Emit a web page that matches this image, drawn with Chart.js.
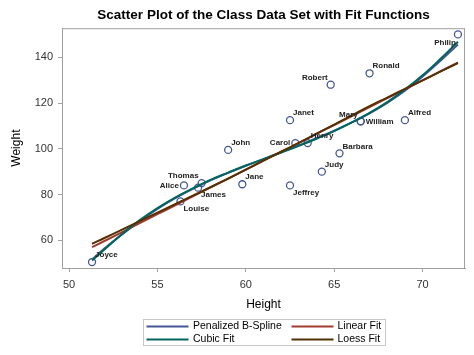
<!DOCTYPE html>
<html><head><meta charset="utf-8">
<script src="https://cdn.jsdelivr.net/npm/chart.js@4"></script>
<style>html,body{margin:0;padding:0;background:#fff}#wrap{width:474px;height:355px}</style>
</head><body><div id="wrap"><canvas id="c" width="474" height="355"></canvas></div>
<script>
const names   = ["Alfred","Alice","Barbara","Carol","Henry","James","Jane","Janet","Jeffrey","John","Joyce","Judy","Louise","Mary","Philip","Robert","Ronald","Thomas","William"];
const heights = [69.0,56.5,65.3,62.8,63.5,57.3,59.8,62.5,62.5,59.0,51.3,64.3,56.3,66.5,72.0,64.8,67.0,57.5,66.5];
const weights = [112.5,84.0,98.0,102.5,102.5,83.0,84.5,112.5,84.0,99.5,50.5,90.0,77.0,112.0,150.0,128.0,133.0,85.0,112.0];

const fitX    = [51.3,52,53,54,55,56,57,58,59,60,61,62,63,64,65,66,67,68,69,70,71,72];
const splineY = [51.6,56.4,62.6,68.4,73.7,78.4,82.5,86.2,89.5,92.6,95.5,98.5,101.5,104.6,107.9,111.5,115.5,120.1,125.4,131.6,138.4,145.6];
const linearY = [57.0,59.7,63.6,67.5,71.4,75.3,79.2,83.1,87.0,90.9,94.8,98.7,102.6,106.5,110.4,114.3,118.2,122.1,126.0,129.9,133.8,137.7];
const cubicY  = [51.2,56.0,62.8,68.8,74.1,78.7,82.7,86.4,89.6,92.7,95.5,98.4,101.3,104.4,107.7,111.5,115.7,120.4,125.9,132.1,139.2,146.8];
const loessY  = [58.5,61.0,64.7,68.4,72.1,75.8,79.5,83.2,87.0,90.9,94.8,98.7,102.6,106.6,110.6,114.6,118.6,122.4,126.2,129.9,133.7,137.5];

const xTicks = [50,55,60,65,70];
const yTicks = [60,80,100,120,140];
const seriesNames = ["Penalized B-Spline","Linear Fit","Cubic Fit","Loess Fit"];
const titleText = "Scatter Plot of the Class Data Set with Fit Functions";

// label placement relative to marker (layout, not data)
const labelPlacement = {Alfred:"ne",Alice:"w",Barbara:"ne",Carol:"w",Henry:"ne",James:"se",Jane:"ne",Janet:"ne",Jeffrey:"se",John:"ne",Joyce:"ne",Judy:"ne",Louise:"se",Mary:"nw",Philip:"sw",Robert:"nw",Ronald:"ne",Thomas:"nw",William:"e"};

const FONT = "'Liberation Sans', Arial, sans-serif";
const colors = ["#445694","#A23A2E","#01665E","#543005"];

function pts(xs, ys){ return xs.map((x,i)=>({x:x,y:ys[i]})); }

const lineDs = (label, ys, color, order) => ({
  label, data: pts(fitX, ys), showLine:true, borderColor:color, backgroundColor:color,
  borderWidth:2, pointRadius:0, pointHoverRadius:0, tension:0.4, order
});

const datasets = [
  lineDs(seriesNames[0], splineY, colors[0], 4),
  lineDs(seriesNames[1], linearY, colors[1], 3),
  lineDs(seriesNames[2], cubicY, colors[2], 2),
  lineDs(seriesNames[3], loessY, colors[3], 1),
  { label:"Weight", data: pts(heights, weights), showLine:false, pointStyle:'circle',
    pointRadius:3.5, pointBorderWidth:1.3, pointBorderColor:"#445694", pointBackgroundColor:"rgba(255,255,255,0)", order:5 }
];

const framePlugin = {
  id:'frame',
  beforeDatasetsDraw(chart){
    const {ctx, chartArea:a} = chart;
    ctx.save();
    ctx.strokeStyle = '#a0a0a0'; ctx.lineWidth = 1;
    ctx.beginPath();
    ctx.moveTo(a.left, a.top+0.5); ctx.lineTo(a.right, a.top+0.5);
    ctx.moveTo(a.right-0.5, a.top); ctx.lineTo(a.right-0.5, a.bottom);
    ctx.stroke();
    ctx.restore();
  }
};

const labelPlugin = {
  id:'labels',
  afterDatasetsDraw(chart){
    const ctx = chart.ctx;
    const meta = chart.getDatasetMeta(4);
    ctx.save();
    ctx.font = "bold 8px " + FONT;
    ctx.fillStyle = '#222';
    ctx.textBaseline = 'middle';
    meta.data.forEach((el,i)=>{
      const p = labelPlacement[names[i]] || 'ne';
      let x = el.x, y = el.y, align = 'left';
      if (p==='ne'){ x+=3; y-=7; }
      else if (p==='nw'){ x-=3; y-=7; align='right'; }
      else if (p==='e'){ x+=5; }
      else if (p==='w'){ x-=5; align='right'; }
      else if (p==='se'){ x+=3; y+=7; }
      else if (p==='sw'){ x-=2; y+=8; align='right'; }
      ctx.textAlign = align;
      ctx.fillText(names[i], x, y);
    });
    ctx.restore();
  }
};

const legendPlugin = {
  id:'boxlegend',
  afterDraw(chart){
    const ctx = chart.ctx;
    const a = chart.chartArea;
    const cx = (a.left + a.right)/2;
    const w = 242, h = 26;
    const bx = Math.round(cx - w/2) + 0.5, by = 319.5;
    ctx.save();
    ctx.strokeStyle = '#c8c8c8'; ctx.lineWidth = 1;
    ctx.strokeRect(bx, by, w, h);
    ctx.font = "10.5px " + FONT;
    ctx.fillStyle = '#000';
    ctx.textBaseline = 'middle';
    ctx.textAlign = 'left';
    const cols = [bx + 3, bx + 148];
    const rows = [by + 7, by + 20];
    const textX = [bx + 49.5, bx + 194];
    const order = [[0,1],[2,3]];
    order.forEach((row, r)=>{
      row.forEach((di, c)=>{
        const ds = chart.data.datasets[di];
        ctx.strokeStyle = ds.borderColor; ctx.lineWidth = 2;
        ctx.beginPath();
        ctx.moveTo(cols[c], rows[r]); ctx.lineTo(cols[c] + 42, rows[r]);
        ctx.stroke();
        ctx.fillText(ds.label, textX[c], rows[r]);
      });
    });
    ctx.restore();
  }
};

new Chart(document.getElementById('c'), {
  type:'scatter',
  data:{ datasets },
  options:{
    responsive:false, animation:false, devicePixelRatio:1,
    layout:{ padding:{ left:0, right:9, top:0, bottom:43 } },
    plugins:{
      legend:{ display:false },
      tooltip:{ enabled:false },
      title:{ display:true, fullSize:false, text:titleText, color:'#000',
        font:{ family:FONT, size:13.5, weight:'bold' }, padding:{ top:7, bottom:5 } }
    },
    scales:{
      x:{
        type:'linear', min:49.6, max:72.4,
        afterBuildTicks: s => { s.ticks = xTicks.map(v=>({value:v})); },
        afterFit: s => { s.height = 44; },
        ticks:{ color:'#333', font:{ family:FONT, size:11 }, padding:6, maxRotation:0 },
        grid:{ drawOnChartArea:false, drawTicks:true, tickLength:4, color:'#a0a0a0' },
        border:{ display:true, color:'#a0a0a0' },
        title:{ display:true, text:'Height', color:'#000', font:{ family:FONT, size:12 }, padding:{ top:0, bottom:0 } }
      },
      y:{
        type:'linear', min:47.9, max:152.7,
        afterBuildTicks: s => { s.ticks = yTicks.map(v=>({value:v})); },
        afterFit: s => { s.width = 62; },
        ticks:{ color:'#333', font:{ family:FONT, size:11 }, padding:5 },
        grid:{ drawOnChartArea:false, drawTicks:true, tickLength:4, color:'#a0a0a0' },
        border:{ display:true, color:'#a0a0a0' },
        title:{ display:true, text:'Weight', color:'#000', font:{ family:FONT, size:12 }, padding:{ top:9, bottom:0 } }
      }
    }
  },
  plugins:[framePlugin, labelPlugin, legendPlugin]
});
</script></body></html>
